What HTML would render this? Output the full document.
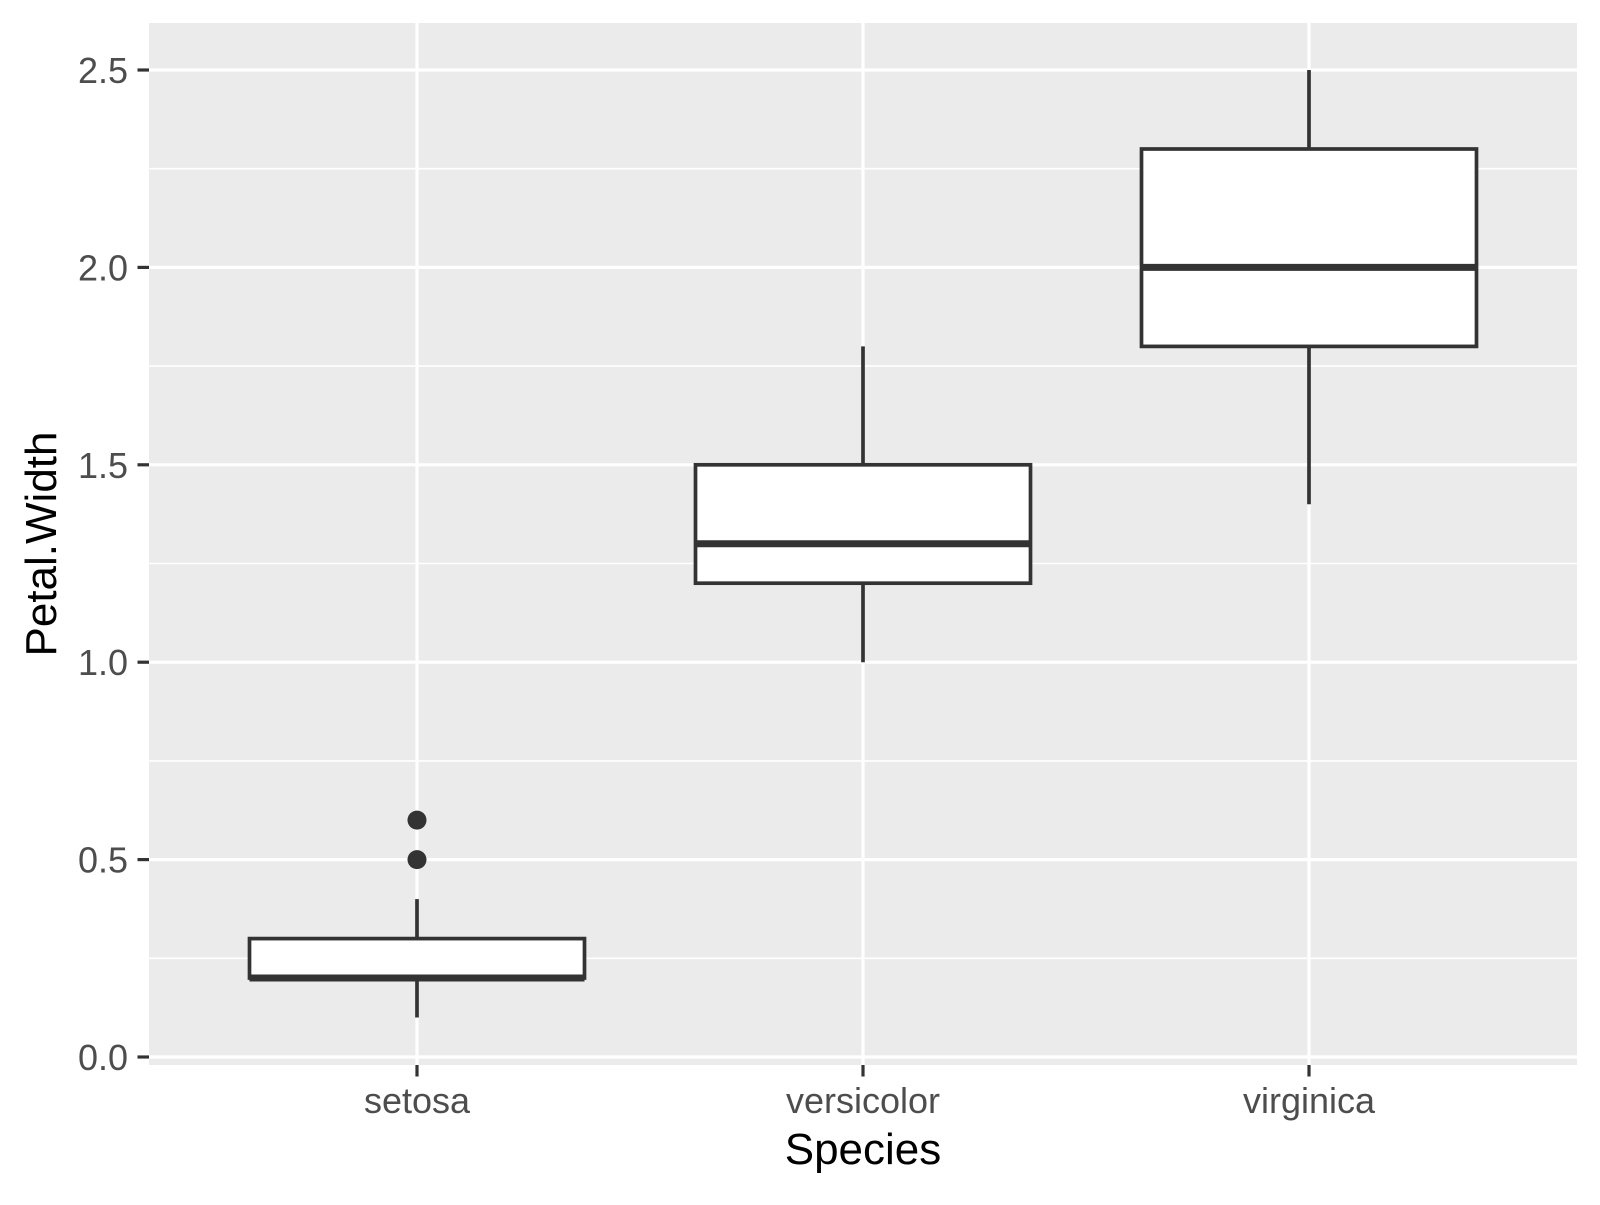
<!DOCTYPE html>
<html><head><meta charset="utf-8"><style>html,body{margin:0;padding:0;background:#fff}</style></head><body>
<svg width="1600" height="1200" viewBox="0 0 1600 1200" xmlns="http://www.w3.org/2000/svg" font-family="Liberation Sans, Arial, sans-serif">
<rect x="0" y="0" width="1600" height="1200" fill="#fff"/>
<rect x="149" y="23" width="1428" height="1042" fill="#EBEBEB"/>
<g stroke="#fff" stroke-width="1.6">
<line x1="149" x2="1577" y1="958.3" y2="958.3"/>
<line x1="149" x2="1577" y1="760.9" y2="760.9"/>
<line x1="149" x2="1577" y1="563.5" y2="563.5"/>
<line x1="149" x2="1577" y1="366.1" y2="366.1"/>
<line x1="149" x2="1577" y1="168.7" y2="168.7"/>
</g>
<g stroke="#fff" stroke-width="3.2">
<line x1="149" x2="1577" y1="1057" y2="1057"/>
<line x1="149" x2="1577" y1="859.6" y2="859.6"/>
<line x1="149" x2="1577" y1="662.2" y2="662.2"/>
<line x1="149" x2="1577" y1="464.8" y2="464.8"/>
<line x1="149" x2="1577" y1="267.4" y2="267.4"/>
<line x1="149" x2="1577" y1="70" y2="70"/>
<line x1="417" x2="417" y1="23" y2="1065"/>
<line x1="863" x2="863" y1="23" y2="1065"/>
<line x1="1309" x2="1309" y1="23" y2="1065"/>
</g>
<g stroke="#333" stroke-width="3.7" fill="#fff">
<line x1="417" x2="417" y1="1017.5" y2="978"/>
<line x1="417" x2="417" y1="938.6" y2="899.1"/>
<rect x="249.5" y="938.6" width="335" height="39.4"/>
<line x1="249.5" x2="584.5" y1="978" y2="978" stroke-width="7"/>
<line x1="863" x2="863" y1="662.2" y2="583.2"/>
<line x1="863" x2="863" y1="464.8" y2="346.4"/>
<rect x="695.5" y="464.8" width="335" height="118.4"/>
<line x1="695.5" x2="1030.5" y1="543.8" y2="543.8" stroke-width="7"/>
<line x1="1309" x2="1309" y1="504.3" y2="346.4"/>
<line x1="1309" x2="1309" y1="149" y2="70"/>
<rect x="1141.5" y="149" width="335" height="197.4"/>
<line x1="1141.5" x2="1476.5" y1="267.4" y2="267.4" stroke-width="7"/>
</g>
<circle cx="417" cy="859.6" r="9.5" fill="#333"/>
<circle cx="417" cy="820.1" r="9.5" fill="#333"/>
<g stroke="#333" stroke-width="3.2">
<line x1="137.5" x2="149" y1="1057" y2="1057"/>
<line x1="137.5" x2="149" y1="859.6" y2="859.6"/>
<line x1="137.5" x2="149" y1="662.2" y2="662.2"/>
<line x1="137.5" x2="149" y1="464.8" y2="464.8"/>
<line x1="137.5" x2="149" y1="267.4" y2="267.4"/>
<line x1="137.5" x2="149" y1="70" y2="70"/>
<line x1="417" x2="417" y1="1065" y2="1076.5"/>
<line x1="863" x2="863" y1="1065" y2="1076.5"/>
<line x1="1309" x2="1309" y1="1065" y2="1076.5"/>
</g>
<g fill="#4D4D4D" font-size="36" text-anchor="end">
<text x="128" y="1070">0.0</text>
<text x="128" y="872.6">0.5</text>
<text x="128" y="675.2">1.0</text>
<text x="128" y="477.8">1.5</text>
<text x="128" y="280.4">2.0</text>
<text x="128" y="83">2.5</text>
</g>
<g fill="#4D4D4D" font-size="36" text-anchor="middle">
<text x="417" y="1113">setosa</text>
<text x="863" y="1113">versicolor</text>
<text x="1309" y="1113">virginica</text>
</g>
<text x="863" y="1164" font-size="44" text-anchor="middle" fill="#000">Species</text>
<text transform="translate(56,544) rotate(-90)" font-size="44" text-anchor="middle" fill="#000">Petal.Width</text>
</svg>
</body></html>
